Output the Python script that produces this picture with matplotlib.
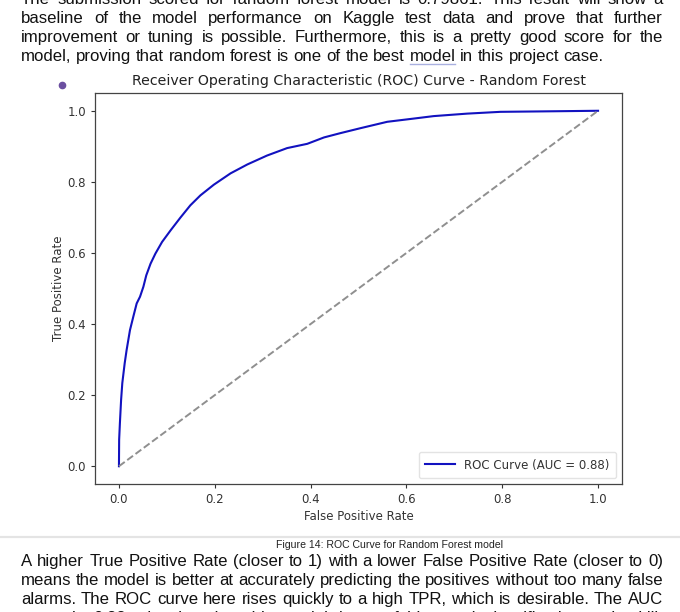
import matplotlib
matplotlib.use("Agg")
import matplotlib.pyplot as plt
from matplotlib.lines import Line2D

# ---------------- data ----------------
fpr = [0.0, 0.0004, 0.002, 0.0045, 0.007, 0.012, 0.016, 0.023, 0.030, 0.037,
       0.044, 0.051, 0.057, 0.066, 0.076, 0.090, 0.108, 0.128, 0.149, 0.170,
       0.198, 0.233, 0.268, 0.309, 0.351, 0.393, 0.428, 0.462, 0.504, 0.560,
       0.615, 0.657, 0.727, 0.796, 0.866, 1.0]
tpr = [0.0, 0.075, 0.122, 0.187, 0.234, 0.290, 0.327, 0.383, 0.421, 0.458,
       0.477, 0.505, 0.537, 0.570, 0.598, 0.631, 0.664, 0.699, 0.734, 0.762,
       0.792, 0.824, 0.849, 0.874, 0.895, 0.907, 0.925, 0.937, 0.951, 0.969,
       0.978, 0.985, 0.992, 0.997, 0.998, 1.0]
chance = [0.0, 1.0]
auc_value = 0.88
ticks = [0.0, 0.2, 0.4, 0.6, 0.8, 1.0]
tick_labels = ["0.0", "0.2", "0.4", "0.6", "0.8", "1.0"]

title = "Receiver Operating Characteristic (ROC) Curve - Random Forest"
xlabel = "False Positive Rate"
ylabel = "True Positive Rate"
caption = "Figure 14: ROC Curve for Random Forest model"

top_lines = [
    "The submission scored for random forest model is 0.79861. This result will show a",
    "baseline of the model performance on Kaggle test data and prove that further",
    "improvement or tuning is possible. Furthermore, this is a pretty good score for the",
    "model, proving that random forest is one of the best model in this project case.",
]
bottom_lines = [
    "A higher True Positive Rate (closer to 1) with a lower False Positive Rate (closer to 0)",
    "means the model is better at accurately predicting the positives without too many false",
    "alarms. The ROC curve here rises quickly to a high TPR, which is desirable. The AUC",
    "score is 0.88, showing that this model has a fairly good classification task skill.",
]

# ---------------- figure ----------------
W, H = 680, 612
fig = plt.figure(figsize=(W / 100, H / 100), dpi=100)
fig.patch.set_facecolor("white")

def fx(px):
    return px / W

def fy(py):
    return 1 - py / H

ax_l, ax_r, ax_t, ax_b = 95, 622, 93, 484
ax = fig.add_axes([fx(ax_l), fy(ax_b), (ax_r - ax_l) / W, (ax_b - ax_t) / H])

ax.plot(fpr, tpr, color="#1212c0", lw=1.5, label=f"ROC Curve (AUC = {auc_value:.2f})")
ax.plot(chance, chance, color="#8f8f8f", lw=1.4, ls="--")
ax.set_xlim(-0.05, 1.05)
ax.set_ylim(-0.05, 1.05)
ax.set_xticks(ticks)
ax.set_xticklabels(tick_labels)
ax.set_yticks(ticks)
ax.set_yticklabels(tick_labels)
ax.tick_params(labelsize=8.5, colors="#333333", length=3, width=0.8)
for s in ax.spines.values():
    s.set_color("#444444")
    s.set_linewidth(0.9)
ax.set_title(title, fontsize=10.2, color="#222222", pad=6)
ax.set_xlabel(xlabel, fontsize=8.5, color="#333333", labelpad=3)
ax.set_ylabel(ylabel, fontsize=8.5, color="#333333", labelpad=2)
leg = ax.legend(loc="lower right", fontsize=8.5, frameon=True, handlelength=2.5,
                borderpad=0.55)
leg.get_frame().set_edgecolor("#dddddd")
for t in leg.get_texts():
    t.set_color("#333333")

# ---------------- document text ----------------
renderer = fig.canvas.get_renderer()
BODY_FONT = "Liberation Sans"
LEFT, RIGHT = 21, 663

def text_width(s, size):
    t = fig.text(0, 0, s, fontsize=size, family=BODY_FONT)
    w = t.get_window_extent(renderer).width
    t.remove()
    return w

# choose a body size so the longest full line fits with normal word spacing
natural = max(text_width(l, 10.0) for l in top_lines[:3] + bottom_lines[:3])
BODY_SIZE = min(12.8, 10.0 * (RIGHT - LEFT) / natural * 0.995)

def draw_line(line, baseline, justify=True, size=BODY_SIZE):
    words = line.split(" ")
    widths = [text_width(w, size) for w in words]
    space = text_width("a a", size) - 2 * text_width("a", size)
    gap = space
    if justify and len(words) > 1:
        gap = max((RIGHT - LEFT - sum(widths)) / (len(words) - 1), space * 0.7)
    x = LEFT
    pos = []
    for w, wd in zip(words, widths):
        fig.text(fx(x), fy(baseline), w, fontsize=size, family=BODY_FONT,
                 color="#111111", va="baseline", ha="left")
        pos.append((x, wd))
        x += wd + gap
    return words, pos

top_base = [4, 23, 42, 61]
for i, (line, b) in enumerate(zip(top_lines, top_base)):
    words, pos = draw_line(line, b, justify=(i < len(top_lines) - 1))
    if i == 3:
        # spell-check underline under the second "model"
        idx = [k for k, w in enumerate(words) if w == "model"][-1]
        x0, wd = pos[idx]
        fig.add_artist(Line2D([fx(x0), fx(x0 + wd)], [fy(b + 3), fy(b + 3)],
                              transform=fig.transFigure, color="#a9b0e0", lw=1.0))

bot_base = [566, 585, 604, 623]
for line, b in zip(bottom_lines, bot_base):
    draw_line(line, b, justify=True)

# separator and caption
fig.add_artist(Line2D([0, 1], [fy(537), fy(537)], transform=fig.transFigure,
                      color="#e4e4e4", lw=1.6))
fig.text(fx(390), fy(548), caption, fontsize=7.6, family=BODY_FONT,
         color="#222222", ha="center", va="baseline")

# small purple dot left of the title
fig.add_artist(Line2D([fx(62)], [fy(85)], transform=fig.transFigure, marker="o",
                      markersize=4.5, color="#6b4fa0", lw=0))

fig.savefig("out.png", dpi=100)
